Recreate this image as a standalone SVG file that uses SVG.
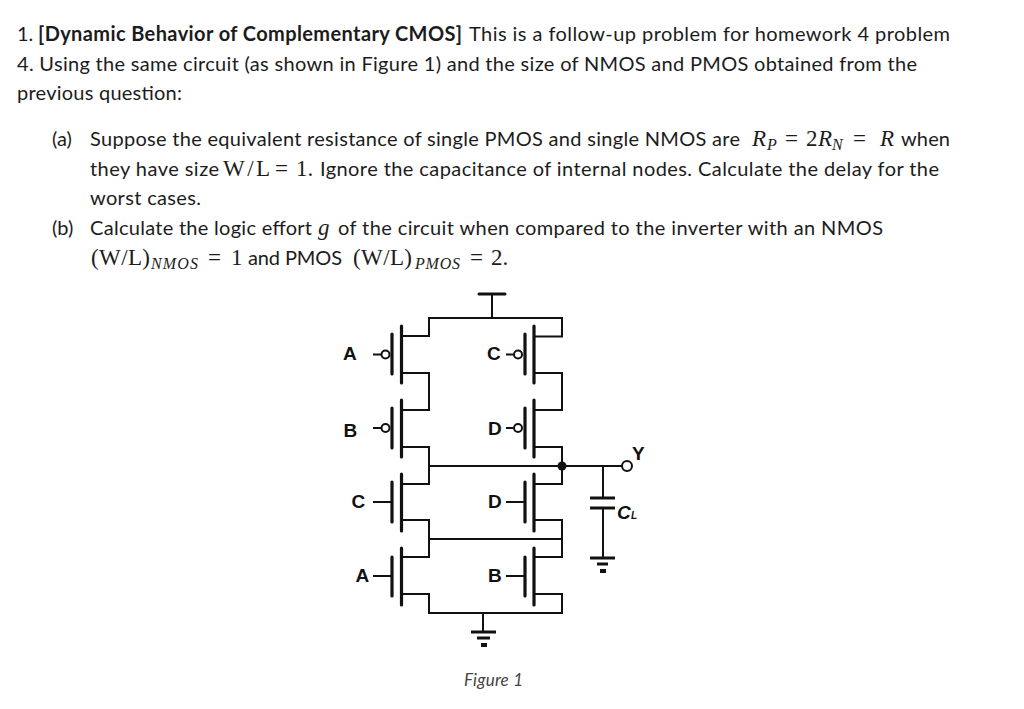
<svg xmlns="http://www.w3.org/2000/svg" width="1024" height="709" viewBox="0 0 1024 709">
<style>
.t{font-family:"Lato","Open Sans","Liberation Sans",sans-serif;font-size:20px;fill:#1c1c1c}
.b{font-weight:700}
.m{font-family:"Liberation Serif","DejaVu Serif",serif;font-size:23px;fill:#1c1c1c}
.i{font-style:italic}
.s{font-size:16px}
.l{font-family:"Liberation Sans",Arial,sans-serif;font-weight:700;font-size:19px;fill:#111}
.w{fill:none;stroke:#111;stroke-width:2}
.thick{fill:none;stroke:#111;stroke-width:3.2;stroke-linecap:round}
.bub{fill:#fff;stroke:#111;stroke-width:2}
.g{fill:none;stroke:#111;stroke-width:3}
</style>
<rect width="1024" height="709" fill="#fff"/>
<g id="problem-text">
<text class="t" x="17" y="41">1.</text>
<text class="t b" x="38" y="41" textLength="424" lengthAdjust="spacing">[Dynamic Behavior of Complementary CMOS]</text>
<text class="t" x="469" y="41" textLength="481" lengthAdjust="spacing">This is a follow-up problem for homework 4 problem</text>
<text class="t" x="17" y="71" textLength="900" lengthAdjust="spacing">4. Using the same circuit (as shown in Figure 1) and the size of NMOS and PMOS obtained from the</text>
<text class="t" x="17" y="100" textLength="165" lengthAdjust="spacing">previous question:</text>
<text class="t" x="52" y="146">(a)</text>
<text class="t" x="90" y="146" textLength="650" lengthAdjust="spacing">Suppose the equivalent resistance of single PMOS and single NMOS are</text>
<text class="m i" x="752" y="146">R</text><text class="m i s" x="767" y="150">P</text>
<text class="m" x="785" y="146">=</text><text class="m" x="806" y="146">2</text>
<text class="m i" x="818" y="146">R</text><text class="m i s" x="832" y="150">N</text>
<text class="m" x="853" y="146">=</text><text class="m i" x="880" y="146">R</text>
<text class="t" x="901" y="146" textLength="49" lengthAdjust="spacing">when</text>
<text class="t" x="90" y="176" textLength="129" lengthAdjust="spacing">they have size</text>
<text class="m" x="223" y="176" textLength="47" lengthAdjust="spacing">W/L</text>
<text class="m" x="275" y="176">=</text>
<text class="m" x="296" y="176">1.</text>
<text class="t" x="320" y="176" textLength="619" lengthAdjust="spacing">Ignore the capacitance of internal nodes. Calculate the delay for the</text>
<text class="t" x="90" y="205" textLength="111" lengthAdjust="spacing">worst cases.</text>
<text class="t" x="52" y="235">(b)</text>
<text class="t" x="90" y="235" textLength="222" lengthAdjust="spacing">Calculate the logic effort</text>
<text class="m i" x="318" y="235">g</text>
<text class="t" x="338" y="235" textLength="545" lengthAdjust="spacing">of the circuit when compared to the inverter with an NMOS</text>
<text class="m" x="91" y="265" textLength="59" lengthAdjust="spacing">(W/L)</text>
<text class="m i s" x="151" y="269" textLength="47" lengthAdjust="spacing">NMOS</text>
<text class="m" x="208" y="265">=</text><text class="m" x="231" y="265">1</text>
<text class="t" x="248" y="265" textLength="94" lengthAdjust="spacing">and PMOS</text>
<text class="m" x="353" y="265" textLength="59" lengthAdjust="spacing">(W/L)</text>
<text class="m i s" x="415" y="269" textLength="45" lengthAdjust="spacing">PMOS</text>
<text class="m" x="470" y="265">=</text><text class="m" x="491" y="265">2.</text>
</g>
<g id="connectors">
<path class="w" d="M492 294V318M401.500 336H429V318H562V336.500H534"/>
<path class="w" d="M401.500 373H429V410H401.500M534 373H562V410H534"/>
<path class="w" d="M401.500 447H429V484H401.500M534 447H562V484H534M429 466H622"/>
<path class="w" d="M401.500 520H429V557H401.500M534 520H562V557H534M429 539H562"/>
<path class="w" d="M401.500 594H429V613H562V594H534M483 613V632"/>
<path class="w" d="M603 466V498M603 508V558"/>
<path class="w" d="M373 354.500H381M373 428H381M506 354.500H513M506 428H513M373 502H392M373 576H392M506 502H524M506 576H524"/>
</g>
<g id="vdd"><path class="g" stroke-linecap="round" d="M479 294H505"/></g>
<g id="gnd"><path class="g" d="M471 632H496M477 638H490"/><path d="M481 643H487V647H481Z" fill="#111"/></g>
<g id="gnd-cap"><path class="g" d="M590 558H615M597 564H608"/><path d="M600 569H606V573H600Z" fill="#111"/></g>
<g id="cl"><path class="g" d="M590 498H615M590 508H615"/>
<text class="l i" x="617" y="519">C</text><text class="l i" x="631" y="519" style="font-size:10px">L</text></g>
<g id="pmos-a"><path class="thick" d="M401.500 326V383M392 334V374"/><circle class="bub" cx="385.500" cy="354.500" r="4"/><text class="l" x="343" y="360">A</text></g>
<g id="pmos-b"><path class="thick" d="M401.500 400V457M392 408V448"/><circle class="bub" cx="385.500" cy="428" r="4"/><text class="l" x="343.500" y="437">B</text></g>
<g id="pmos-c"><path class="thick" d="M534 326V383M525 334V374"/><circle class="bub" cx="518" cy="354.500" r="4"/><text class="l" x="487" y="360">C</text></g>
<g id="pmos-d"><path class="thick" d="M534 400V457M525 408V448"/><circle class="bub" cx="518" cy="428" r="4"/><text class="l" x="488" y="435">D</text></g>
<g id="nmos-c"><path class="thick" d="M401.500 474V531M392 482V522"/><text class="l" x="351.500" y="508">C</text></g>
<g id="nmos-d"><path class="thick" d="M534 474V531M525 482V522"/><text class="l" x="488" y="508">D</text></g>
<g id="nmos-a"><path class="thick" d="M401.500 548V605M392 557V596"/><text class="l" x="355.500" y="582">A</text></g>
<g id="nmos-b"><path class="thick" d="M534 548V605M525 557V596"/><text class="l" x="488" y="582">B</text></g>
<g id="output"><circle cx="562" cy="466" r="4.500" fill="#111"/><circle class="bub" cx="627" cy="466" r="5"/><text class="l" x="632" y="460">Y</text></g>
<text x="464" y="686" font-family="Lato,'Open Sans',sans-serif" font-size="17" font-style="italic" fill="#444" textLength="59" lengthAdjust="spacing">Figure 1</text>
</svg>
